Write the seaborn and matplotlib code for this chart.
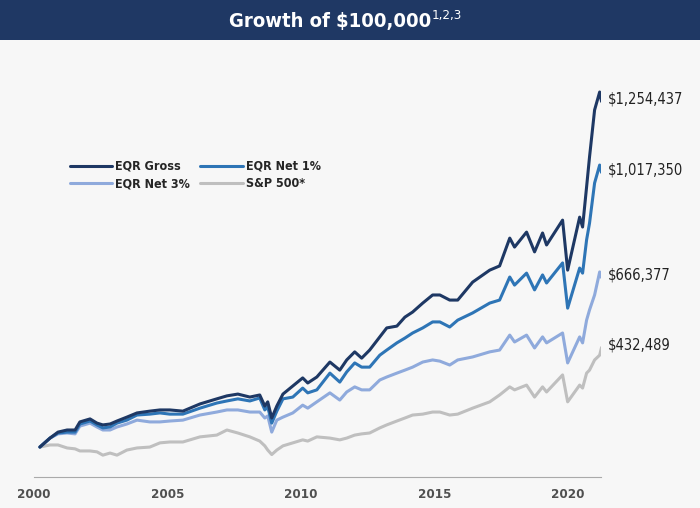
import pandas as pd
import seaborn as sns
import matplotlib.pyplot as plt
from matplotlib import font_manager
from matplotlib.patches import Rectangle

# Values (in $ thousands)
years = [2000.22, 2000.60, 2000.90, 2001.24, 2001.54, 2001.72, 2002.10, 2002.36, 2002.58, 2002.85,
         2003.11, 2003.48, 2003.86, 2004.34, 2004.72, 2005.09, 2005.58, 2006.22, 2006.85, 2007.23,
         2007.64, 2008.09, 2008.46, 2008.65, 2008.76, 2008.91, 2009.10, 2009.33, 2009.70, 2010.07,
         2010.26, 2010.60, 2011.09, 2011.46, 2011.72, 2012.02, 2012.28, 2012.58, 2012.96, 2013.22,
         2013.60, 2013.90, 2014.19, 2014.57, 2014.94, 2015.21, 2015.58, 2015.88, 2016.44, 2017.08,
         2017.45, 2017.83, 2018.01, 2018.46, 2018.76, 2019.06, 2019.21, 2019.81, 2020.00, 2020.45,
         2020.56, 2020.71, 2020.82, 2021.01, 2021.20, 2021.27]

eqr_gross = [100, 130, 150, 157, 157, 184, 194, 180, 174, 177,
             187, 200, 214, 220, 224, 224, 220, 244, 261, 271,
             277, 267, 274, 237, 251, 197, 237, 277, 304, 331,
             314, 334, 384, 357, 391, 418, 397, 424, 468, 498,
             504, 534, 551, 581, 608, 608, 591, 591, 651, 691,
             705, 798, 768, 818, 752, 815, 775, 858, 691, 868,
             835, 969, 1069, 1226, 1286, 1254.437]

eqr_net1 = [100, 130, 147, 150, 150, 177, 187, 174, 164, 167,
            180, 190, 207, 210, 214, 210, 210, 230, 247, 254,
            261, 254, 264, 224, 234, 180, 220, 261, 267, 297,
            281, 291, 347, 317, 351, 381, 367, 367, 407, 424,
            448, 464, 481, 498, 518, 518, 501, 524, 548, 581,
            591, 668, 641, 681, 625, 675, 648, 715, 564, 698,
            681, 792, 848, 982, 1042, 1017.350]

eqr_net3 = [100, 130, 144, 147, 144, 170, 180, 167, 157, 157,
            167, 177, 190, 184, 184, 187, 190, 207, 217, 224,
            224, 217, 217, 197, 204, 150, 190, 200, 214, 240,
            230, 251, 281, 257, 284, 301, 291, 291, 324, 334,
            347, 357, 367, 384, 391, 387, 374, 391, 401, 418,
            424, 474, 451, 474, 431, 468, 448, 481, 381, 468,
            448, 524, 558, 608, 685, 666.377]

sp500 = [100, 107, 107, 97, 94, 87, 87, 84, 73, 80,
         73, 90, 97, 100, 114, 117, 117, 134, 140, 157,
         147, 134, 120, 104, 90, 75, 90, 104, 114, 124,
         120, 134, 130, 124, 130, 140, 144, 147, 164, 174,
         187, 197, 207, 210, 217, 217, 207, 210, 230, 251,
         274, 301, 291, 307, 267, 301, 284, 341, 251, 307,
         297, 347, 357, 391, 407, 432.489]

series = ['EQR Gross', 'EQR Net 1%', 'EQR Net 3%', 'S&P 500*']
colors = ['#1e3864', '#2e75b6', '#8faadc', '#bfbfbf']
end_labels = ['$1,254,437', '$1,017,350', '$666,377', '$432,489']
xticks = [2000, 2005, 2010, 2015, 2020]

df = pd.DataFrame({'Year': years, 'EQR Gross': eqr_gross, 'EQR Net 1%': eqr_net1,
                   'EQR Net 3%': eqr_net3, 'S&P 500*': sp500})
long_df = df.melt(id_vars='Year', var_name='Series', value_name='Value')
long_df['Value'] = long_df['Value'] * 1000

sns.set_style('white')

# look for a condensed face; fall back to a regular one at smaller sizes
fonts = font_manager.fontManager.ttflist
names = {f.name for f in fonts}
stretch = 'normal'
if any(f.name == 'DejaVu Sans' and str(f.stretch) in ('condensed', 'semi-condensed') for f in fonts):
    family, stretch, k = 'DejaVu Sans', 'condensed', 1.0
elif 'Liberation Sans Narrow' in names:
    family, k = 'Liberation Sans Narrow', 1.0
else:
    family, k = 'Liberation Sans', 0.92
plt.rcParams['font.family'] = [family, 'DejaVu Sans']
plt.rcParams['font.stretch'] = stretch

bg = '#f7f7f7'
fig = plt.figure(figsize=(7, 5.08), dpi=100, facecolor=bg)
ax = fig.add_axes([34 / 700, 31 / 508, 567 / 700, 432 / 508])
ax.set_facecolor(bg)

# draw S&P first so it sits underneath
order = series[::-1]
sns.lineplot(data=long_df, x='Year', y='Value', hue='Series', hue_order=order,
             palette=dict(zip(series, colors)), linewidth=2.2, legend=False, ax=ax)

ax.set_xlim(2000, 2021.25)
ax.set_ylim(0, 1443000)
ax.set_xlabel('')
ax.set_ylabel('')
ax.set_yticks([])
ax.set_xticks(xticks)
ax.set_xticklabels([str(t) for t in xticks], fontsize=9.5 * k, fontweight='bold', color='#505050')
ax.tick_params(axis='x', length=3.6, width=1, color='#aaaaaa', pad=4, direction='out')
for side in ['left', 'top', 'right']:
    ax.spines[side].set_visible(False)
ax.spines['bottom'].set_color('#aaaaaa')

# value labels at the line ends
finals = [eqr_gross[-1], eqr_net1[-1], eqr_net3[-1], sp500[-1]]
for lab, val in zip(end_labels, finals):
    ax.text(years[-1] + 0.22, val * 1000 + 8000, lab, fontsize=10.5 * k, color='#222222',
            va='center', ha='left', clip_on=False)

# legend: two columns, Gross / Net 1% on top row
handles = {s: plt.Line2D([], [], color=c, linewidth=2.2) for s, c in zip(series, colors)}
leg_order = ['EQR Gross', 'EQR Net 3%', 'EQR Net 1%', 'S&P 500*']
ax.legend([handles[s] for s in leg_order], leg_order, ncol=2, frameon=False,
          loc='upper left', bbox_to_anchor=(0.043, 0.76), handlelength=3.4,
          handletextpad=0.25, columnspacing=0.8, labelspacing=0.35,
          prop={'weight': 'bold', 'size': 9 * k})

# title banner
fig.patches.append(Rectangle((0, 1 - 40 / 508), 1, 40 / 508, transform=fig.transFigure,
                             facecolor='#1f3864', edgecolor='none', zorder=0))
fig.text(431 / 700, 1 - 21 / 508, r'Growth of \$100,000', color='white', fontsize=14.5 * k,
         fontweight='bold', ha='right', va='center')
fig.text(432 / 700, 1 - 15 / 508, '1,2,3', color='white', fontsize=9.5 * k,
         ha='left', va='center')

fig.savefig('out.png', dpi=100, facecolor=bg)
